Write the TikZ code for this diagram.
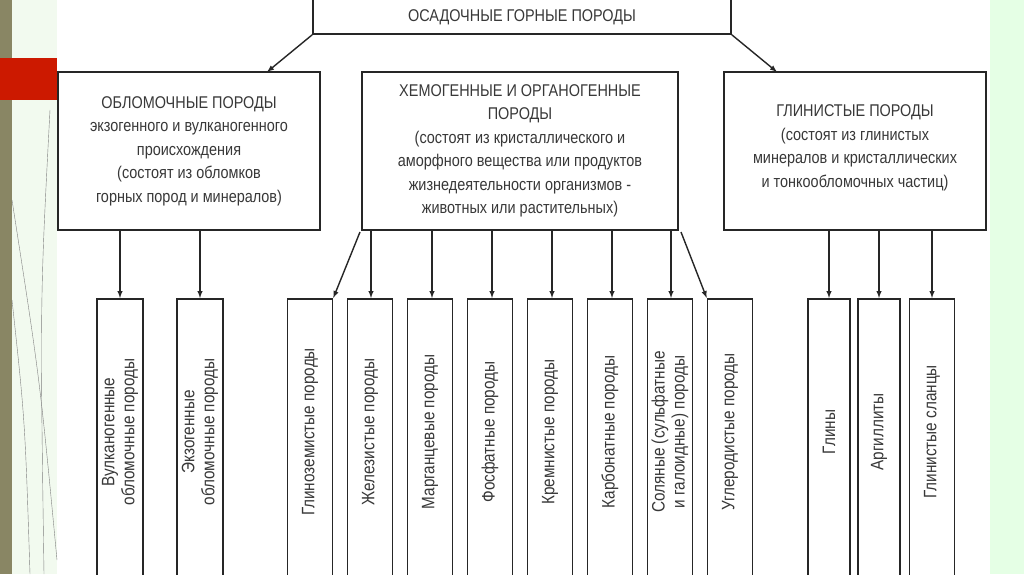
\documentclass[tikz,border=0pt]{standalone}
\usepackage{fontspec}
\setmainfont[FakeStretch=0.85]{Liberation Sans}
\begin{document}
\begin{tikzpicture}[x=1pt,y=-1pt,
  box/.style={draw=black!85,line width=1.6pt,fill=white,inner sep=0pt},
  txt/.style={text=black!78,font=\fontsize{17}{23.5}\selectfont,align=center},
  vtxt/.style={text=black!78,font=\fontsize{18}{20}\selectfont,align=center,rotate=90},
  arr/.style={-latex,line width=1.4pt,draw=black!85}]
\useasboundingbox (0,0) rectangle (1024,574);
\fill[white] (0,0) rectangle (1024,574);
\fill[yellow!14!green!6!white] (0,0) rectangle (57,574);
\fill[green!10!white] (990,0) rectangle (1024,574);
\fill[black!55!yellow!60!gray] (0,0) rectangle (12,574);
\fill[red!75!orange!80!black] (0,58) rectangle (57,100);
\draw[black!50,line width=0.4pt] (50,110) .. controls (40,300) .. (44,574);
\draw[black!50,line width=0.4pt] (12,300) .. controls (25,420) .. (30,574);
\draw[black!50,line width=0.4pt] (12,200) .. controls (40,380) .. (57,560);
% top
\node[box,minimum width=418pt,minimum height=40pt] (top) at (522,14) {};
\node[txt] at (522,17) {ОСАДОЧНЫЕ ГОРНЫЕ ПОРОДЫ};
\node[box,minimum width=262pt,minimum height=158pt] (L) at (189,151) {};
\node[txt] at (189,151) {ОБЛОМОЧНЫЕ ПОРОДЫ\\экзогенного и вулканогенного\\происхождения\\(состоят из обломков\\горных пород и минералов)};
\node[box,minimum width=316pt,minimum height=158pt] (M) at (520,151) {};
\node[txt] at (520,151) {ХЕМОГЕННЫЕ И ОРГАНОГЕННЫЕ\\ПОРОДЫ\\(состоят из кристаллического и\\аморфного вещества или продуктов\\жизнедеятельности организмов -\\животных или растительных)};
\node[box,minimum width=262pt,minimum height=158pt] (R) at (855,151) {};
\node[txt] at (855,148) {ГЛИНИСТЫЕ ПОРОДЫ\\(состоят из глинистых\\минералов и кристаллических\\и тонкообломочных частиц)};
\draw[arr] (top.south west) -- (267,72);
\draw[arr] (top.south east) -- (777,72);
% bottom boxes
\foreach \n/\x/\w/\t in {a/120/46/{Вулканогенные\\обломочные породы},b/200/46/{Экзогенные\\обломочные породы},
 c/310/45/{Глиноземистые породы},d/370/45/{Железистые породы},e/430/45/{Марганцевые породы},f/490/45/{Фосфатные породы},
 g/550/45/{Кремнистые породы},h/610/45/{Карбонатные породы},i/670/45/{Соляные (сульфатные\\и галоидные) породы},j/730/45/{Углеродистые породы},
 k/829/42/{Глины},l/879/42/{Аргиллиты},m/932/45/{Глинистые сланцы}}{
  \node[box,minimum width=\w pt,minimum height=290pt,anchor=north] (\n) at (\x,298) {};
  \node[vtxt] at (\x,432) {\t};
}
\draw[arr] (L.south -| a) -- (a.north);
\draw[arr] (L.south -| b) -- (b.north);
\draw[arr] (360,232) -- (c.north east);
\draw[arr] (681,232) -- (j.north west);
\foreach \n/\x in {d/371,e/432,f/492,g/552,h/612,i/671}{\draw[arr] (\x,230) -- (\x,298);}
\foreach \n in {k,l,m}{\draw[arr] (R.south -| \n) -- (\n.north);}
\end{tikzpicture}
\end{document}
